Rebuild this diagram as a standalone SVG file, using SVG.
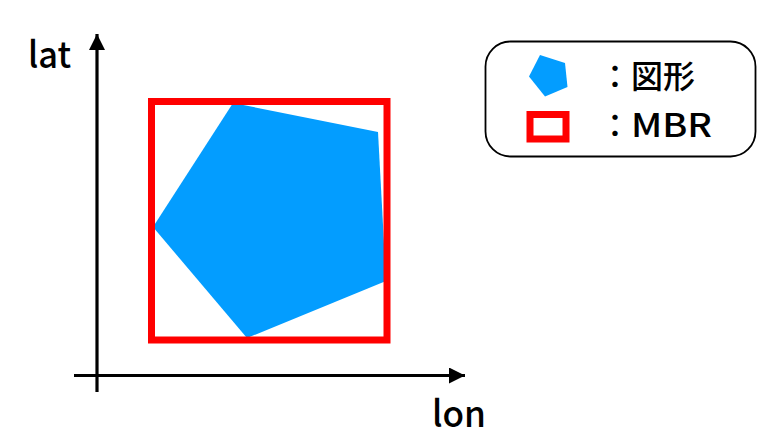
<svg xmlns="http://www.w3.org/2000/svg" width="776" height="438" viewBox="0 0 776 438">
<style>
.ax{stroke:#000;stroke-width:3.2;fill:none}
.lbl{font-family:"Noto Sans CJK JP","Liberation Sans",sans-serif;font-size:36px;font-weight:500;fill:#000}
.lg{font-family:"Noto Sans CJK JP","Liberation Sans",sans-serif;font-size:32px;font-weight:500;fill:#000}
.shape{fill:#039dff}
.mbr{fill:none;stroke:#ff0000;stroke-width:7}
</style>
<defs>
<marker id="ah" viewBox="0 0 16 16" refX="16" refY="8" markerWidth="16" markerHeight="16" markerUnits="userSpaceOnUse" orient="auto">
<path d="M0,0 L16,8 L0,16 Z" fill="#000"/>
</marker>
</defs>
<g id="connectors">
<line class="ax" x1="97" y1="392" x2="97" y2="34" marker-end="url(#ah)"/>
<line class="ax" x1="74" y1="375.5" x2="465" y2="375.5" marker-end="url(#ah)"/>
</g>
<g id="shape">
<polygon class="shape" points="233,103 378,132 386,281 247,338 153,227"/>
</g>
<g id="mbr">
<rect class="mbr" x="151.5" y="101.5" width="235.5" height="238.5"/>
</g>
<g id="axis-labels">
<text class="lbl" x="28" y="67.5" textLength="43" lengthAdjust="spacingAndGlyphs">lat</text>
<text class="lbl" x="432" y="426.5" textLength="54" lengthAdjust="spacingAndGlyphs">lon</text>
</g>
<g id="legend">
<rect x="485.5" y="41.5" width="270" height="115" rx="25" ry="25" fill="#fff" stroke="#000" stroke-width="1.8"/>
<polygon class="shape" points="540,55 565,63 567.5,87 545,96.5 529,76.5"/>
<rect class="mbr" x="530" y="114.5" width="36" height="24.5" stroke-width="7.5"/>
<text class="lg" x="599" y="88">：図形</text>
<text class="lg" x="599" y="136.5">：<tspan x="631" textLength="81" lengthAdjust="spacingAndGlyphs">MBR</tspan></text>
</g>
</svg>
